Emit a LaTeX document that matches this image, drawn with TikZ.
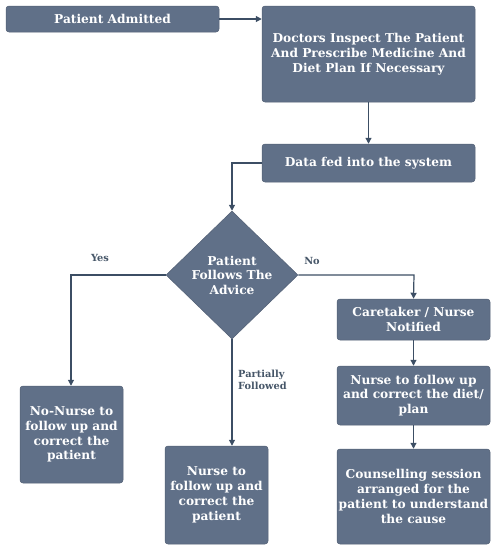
\documentclass[tikz,border=0pt]{standalone}
\usepackage{fontspec}
\setmainfont{DejaVu Serif}
\usetikzlibrary{shapes.geometric,arrows.meta}
\definecolor{boxfill}{RGB}{96,112,136}
\definecolor{linecol}{RGB}{60,78,100}
\definecolor{labcol}{RGB}{70,86,104}
\tikzset{
  box/.style={draw=boxfill!85!black, line width=0.5pt, fill=boxfill, rounded corners=3pt, text=white,
    font=\bfseries\fontsize{12.2}{14.8}\selectfont, align=center, inner sep=0pt},
  conn/.style={draw=linecol, line width=1.2pt, -{Triangle[length=6pt,width=6pt]}},
  lab/.style={text=labcol, font=\bfseries\fontsize{9.8}{11.5}\selectfont, align=left, inner sep=0pt}
}
\begin{document}
\begin{tikzpicture}[x=1pt,y=-1pt]
\useasboundingbox (0,0) rectangle (497,550);
\node[box, minimum width=213pt, minimum height=26pt] (pa) at (112.5,19) {Patient Admitted};
\node[box, minimum width=213pt, minimum height=96pt] (doc) at (368.5,54) {Doctors Inspect The Patient\\And Prescribe Medicine And\\Diet Plan If Necessary};
\node[box, minimum width=213pt, minimum height=38pt] (data) at (368.5,163) {Data fed into the system};
\node[diamond, fill=boxfill, draw=boxfill!85!black, line width=0.5pt, text=white, align=center, inner sep=0pt,
  minimum width=132pt, minimum height=128pt, font=\bfseries\fontsize{12.2}{14.5}\selectfont] (dec) at (232,275) {Patient\\Follows The\\Advice};
\node[box, minimum width=153pt, minimum height=41pt] (care) at (413.5,319.5) {Caretaker / Nurse\\Notified};
\node[box, minimum width=153pt, minimum height=59pt] (ndiet) at (413.5,395.5) {Nurse to follow up\\and correct the diet/\\plan};
\node[box, minimum width=153pt, minimum height=95pt] (couns) at (413.5,496.5) {Counselling session\\arranged for the\\patient to understand\\the cause};
\node[box, minimum width=103pt, minimum height=97pt] (nonurse) at (71.5,434.5) {No-Nurse to\\follow up and\\correct the\\patient};
\node[box, minimum width=103pt, minimum height=98pt] (nurse) at (216.5,495) {Nurse to\\follow up and\\correct the\\patient};
\coordinate (c1) at (232,163);
\coordinate (c2) at (71,275);
\coordinate (c3) at (414,275);
\draw[conn] (pa.east) -- (doc.west |- pa.east);
\draw[conn] (doc.south) -- (data.north);
\draw[conn] (data.west) -- (c1) -- (dec.north);
\draw[conn] (dec.west) -- (c2) -- (nonurse.north -| c2);
\draw[conn] (dec.east) -- (c3) -- (care.north);
\draw[conn] (dec.south) -- (dec.south |- nurse.north);
\draw[conn] (care.south) -- (ndiet.north);
\draw[conn] (ndiet.south) -- (couns.north);
\node[lab] (yes) at (100,258) {Yes};
\node[lab] (no) at (312,261) {No};
\node[lab, anchor=west] (pf) at (238,380) {Partially\\Followed};
\end{tikzpicture}
\end{document}
